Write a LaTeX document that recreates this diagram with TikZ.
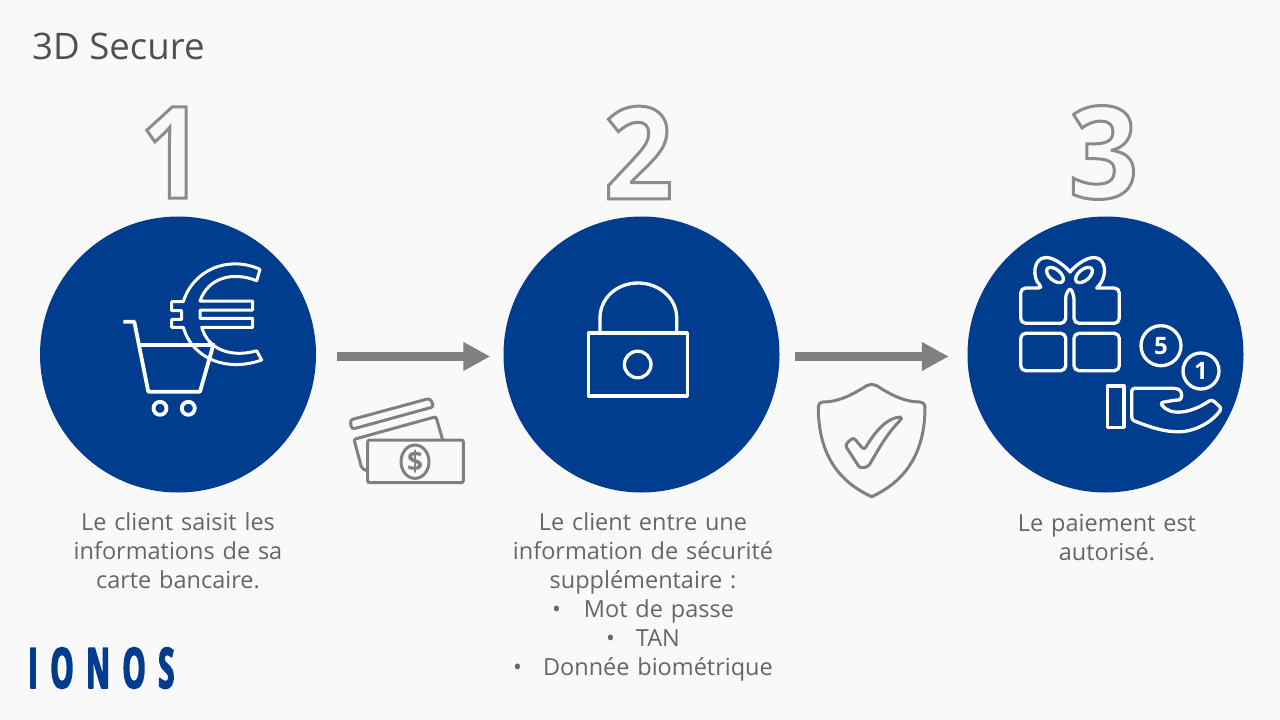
\documentclass[tikz,border=0pt]{standalone}
\usepackage{fontspec}
\setmainfont{Open Sans}
\newfontfamily\logofont[FakeStretch=0.52,LetterSpace=22.5]{Open Sans}
\newfontfamily\numfont[FakeStretch=0.95]{Open Sans}
\newfontfamily\numfontnarrow[FakeStretch=0.87]{Open Sans}
\usetikzlibrary{arrows.meta,calc}
\definecolor{BackGray}{HTML}{F9F9F9}
\definecolor{IonosBlue}{HTML}{003D8F}
\definecolor{ArrowGray}{HTML}{808080}
\definecolor{TextGray}{HTML}{666666}
\definecolor{TitleGray}{HTML}{505050}
\newcommand{\outlinenum}[1]{\special{pdf:code q 1 Tr 3 w 0.55 0.55 0.55 RG}#1\special{pdf:code Q}}
\newcommand{\roundlogo}[1]{\special{pdf:code q 2 Tr 1.5 w 1 j 1 J 0 0.239 0.561 RG}#1\special{pdf:code Q}}
\tikzset{
  CircleStep/.style={circle, fill=IonosBlue, minimum size=276, inner sep=0},
  NumBig/.style={inner sep=0, font=\fontsize{128}{128}\selectfont\numfont\bfseries},
  Caption/.style={text=TextGray, align=center, text width=300, inner sep=0, %
                  font=\fontsize{23.5}{29}\selectfont},
  Flow/.style={line width=9, ArrowGray, -{Triangle[length=27,width=27]}},
  IconWhite/.style={draw=white, line width=3.3, line join=round},
  IconGray/.style={draw=ArrowGray, line width=3, line join=round},
  CoinNum/.style={text=white, inner sep=0, font=\fontsize{24}{24}\selectfont\bfseries}
}

\begin{document}
\begin{tikzpicture}[x=1pt, y=-1pt]
  \useasboundingbox (0,0) rectangle (1280,720);
  \fill[BackGray] (0,0) rectangle (1280,720);
%
  \node[CircleStep] (CircleOne) at (178,354.5) {};
  \node[CircleStep, right of=CircleOne, node distance=463.5] (CircleTwo) {};
  \node[CircleStep, right of=CircleTwo, node distance=464] (CircleThree) {};
%
  \node[NumBig, above of=CircleOne, node distance=202, xshift=-6] (NumOne) {\numfontnarrow\bfseries\outlinenum{1}};
  \node[NumBig, above of=CircleTwo, node distance=202, xshift=-3] (NumTwo) {\outlinenum{2}};
  \node[NumBig, above of=CircleThree, node distance=202, xshift=-2] (NumThree) {\outlinenum{3}};
%
  \node[text=TitleGray, anchor=west, inner sep=0, font=\fontsize{36.6}{36}\selectfont] %
       (Title) at (32,46) {3D Secure};
  \node[anchor=west, inner sep=0, text=IonosBlue, font=\fontsize{56}{56}\selectfont\logofont\bfseries] %
       (Logo) at (28,668) {\roundlogo{IONOS}};
%
  \node[Caption, below of=CircleOne, node distance=196.5] (CaptionOne) %
       {Le client saisit les\\informations de sa\\carte bancaire.};
  \node[Caption, below of=CircleTwo, node distance=242, xshift=1.5] (CaptionTwo) %
       {Le client entre une\\information de sécurité\\supplémentaire :\\%
        •\hspace{23pt}Mot de passe\\•\hspace{21pt}TAN\\•\hspace{21pt}Donnée biométrique};
  \node[Caption, below of=CircleThree, node distance=183, xshift=1.5] (CaptionThree) %
       {Le paiement est\\autorisé.};
%
  \draw[Flow, shorten <=21, shorten >=13] ([yshift=-2pt]CircleOne.east) -- ([yshift=-2pt]CircleTwo.west);
  \draw[Flow, shorten <=15, shorten >=18.5] ([yshift=-2pt]CircleTwo.east) -- ([yshift=-2pt]CircleThree.west);
%
  % euro and cart
  \draw[IconWhite, line width=3] (260,269.3) -- (256.7,280.7) .. controls (232,271) and (208,278) .. (200,301) %
    -- (252.7,301) -- (252.7,310) -- (200,310) -- (200,318.3) -- (252.7,318.3) -- (252.7,327.3) -- (201.7,327.3) %
    .. controls (208,350) and (232,358) .. (256.7,350.7) -- (261.7,360) .. controls (228,372) and (193,360) .. (183.3,327.3) %
    -- (171.7,327.3) -- (171.7,319.3) -- (181.7,319.3) -- (181.7,310.7) -- (171.7,310.7) -- (171.7,301.7) -- (183.3,301.7) %
    .. controls (193,270) and (228,255) .. (260,269.3) -- cycle;
  \draw[IconWhite, line width=3.8] (123.3,321.7) -- (134.3,321.7) -- (148.3,391.7) -- (200,391.7) -- (213.3,345);
  \draw[IconWhite, line width=4.8] (140,345) -- (215,345);
  \draw[IconWhite, line width=3.8] (160,408.3) circle (6.5) (188.3,408.3) circle (6.5);
%
  % lock
  \draw[IconWhite] (588.3,333) rectangle (687.3,396);
  \draw[IconWhite] (600,333) -- (600,318) .. controls (600,298) and (617,283) .. (638,283) %
    .. controls (659,283) and (676.7,298) .. (676.7,318) -- (676.7,333);
  \draw[IconWhite] (637.7,364.5) circle (13.3);
%
  % gift
  \draw[IconWhite] (1065.7,323.3) [rounded corners=5] -- (1020.7,323.3) -- (1020.7,288) -- (1043.3,288) [sharp corners] %
    .. controls (1032,278) and (1033,257.5) .. (1046,257.5) .. controls (1055,257.5) and (1066,267) .. (1070,272) %
    .. controls (1074,267) and (1085,257.5) .. (1094,257.5) .. controls (1107,257.5) and (1108,278) .. (1096.7,288) %
    [rounded corners=5] -- (1119.3,288) -- (1119.3,323.3) -- (1074,323.3) -- (1074,295) [rounded corners=3] -- (1070,287.7) %
    -- (1065.7,295) [rounded corners=5] -- cycle;
  \draw[IconWhite] (1055,275) circle[x radius=10pt, y radius=5.5pt, rotate=-40];
  \draw[IconWhite] (1084,275) circle[x radius=10pt, y radius=5.5pt, rotate=40];
  \draw[IconWhite, rounded corners=5] (1020.7,333.3) rectangle (1065.7,370.7);
  \draw[IconWhite, rounded corners=5] (1074,333.3) rectangle (1119.3,370.7);
%
  % coins and hand
  \draw[IconWhite] (1161,345.7) circle (20) (1201,371) circle (18);
  \node[CoinNum] (CoinFive) at (1161,345.7) {5};
  \node[CoinNum] (CoinOne) at (1201,371) {1};
  \draw[IconWhite] (1107.3,386) rectangle (1124,427.3);
  \draw[IconWhite, rounded corners=3] (1131.7,388.3) -- (1176.7,388.3) .. controls (1183,392) and (1182,400) .. (1176,400) %
    -- (1160,402.7) .. controls (1170,416) and (1190,414) .. (1211.7,399.3) -- (1221.7,408.3) %
    .. controls (1210,425) and (1190,432) .. (1176.7,431.7) .. controls (1160,431) and (1145,425) .. (1131.7,420) -- cycle;
%
  % cards and note
  \draw[IconGray, rounded corners=3] (350,420) -- (430,398.3) -- (434,406.7) -- (351.7,429.3) -- cycle;
  \draw[IconGray, rounded corners=2] (366.7,470.7) -- (361.7,468.3) -- (354,439.3) -- (436,416.7) -- (442.7,440);
  \draw[IconGray, rounded corners=2] (367.7,440) rectangle (463.3,482.7);
  \draw[IconGray] (415,461.7) circle[x radius=14pt, y radius=16.7pt];
  \node[text=ArrowGray, inner sep=0, font=\fontsize{28}{28}\selectfont\bfseries] (Dollar) at (415,461.7) {\$};
%
  % shield
  \draw[IconGray] (867,385.5) .. controls (870,384) and (873.4,384) .. (876.4,385.5) %
    .. controls (888,393) and (903,402) .. (920,402) .. controls (923,402) and (925,404) .. (925,407) %
    .. controls (925,450) and (908,480) .. (871.7,496.7) .. controls (835,480) and (818.3,450) .. (818.3,407) %
    .. controls (818.3,404) and (820,402) .. (823,402) .. controls (840,402) and (855,393) .. (867,385.5) -- cycle;
  \draw[IconGray, rounded corners=3] (845,445) -- (853.3,437.3) -- (864,450) .. controls (875,432) and (885,420) .. (900,416.7) %
    -- (901.7,419.3) .. controls (888,432) and (878,450) .. (868.3,466.7) -- (860,468.3) -- cycle;
\end{tikzpicture}
\end{document}
